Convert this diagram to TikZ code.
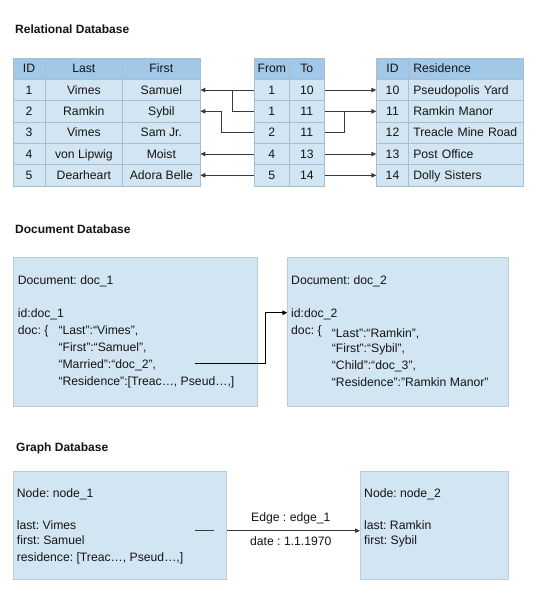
\documentclass[tikz,border=0pt]{standalone}
\usepackage{fontspec}
\setmainfont{Liberation Sans}
\usetikzlibrary{arrows.meta}
\definecolor{hdr}{HTML}{A2C8E8}
\definecolor{cellc}{HTML}{D2E5F3}
\definecolor{bord}{HTML}{A9BDCD}
\definecolor{boxbord}{HTML}{B9CCDA}
\definecolor{linec}{HTML}{3A3A3A}
\definecolor{txt}{HTML}{141414}
\frenchspacing
\begin{document}
\begin{tikzpicture}[x=1pt,y=-1pt,
  font=\fontsize{12.2}{14}\selectfont, text=txt,
  cellbox/.style={draw=bord, line width=0.8pt, fill=cellc, inner sep=0pt, minimum height=21.33pt, text height=8.6pt, text depth=0pt, anchor=center},
  hdrbox/.style={cellbox, fill=hdr},
  lefttext/.style={align=left, inner xsep=5pt, inner ysep=0pt},
  conn/.style={draw=linec, line width=0.9pt},
  arr/.style={conn, -{Triangle[length=5pt,width=4.5pt]}},
  title/.style={font=\fontsize{12}{14}\selectfont\bfseries, anchor=west, inner sep=0pt, text height=8.6pt, text depth=0pt},
  tx/.style={anchor=west, inner sep=0pt, text height=8.6pt, text depth=0pt},
  bigbox/.style={draw=boxbord, line width=0.8pt, fill=cellc, inner sep=0pt, anchor=north west}
]
\useasboundingbox (0,0) rectangle (541,600);

% ---------- Titles ----------
\node[title] (tRel) at (15,29) {Relational Database};
\node[title] (tDoc) at (15,229) {Document Database};
\node[title] (tGra) at (16,447) {Graph Database};

% ---------- Table 1 ----------
\node[hdrbox, minimum width=32pt] (a0) at (29,68.67) {ID};
\node[hdrbox, minimum width=77.7pt] (b0) at (83.85,68.67) {Last};
\node[hdrbox, minimum width=77.3pt] (c0) at (161.35,68.67) {First};
\foreach \i/\vid/\vla/\vfi in {1/1/Vimes/Samuel, 2/2/Ramkin/Sybil, 3/3/Vimes/Sam Jr., 4/4/von Lipwig/Moist, 5/5/Dearheart/Adora Belle}{
  \pgfmathsetmacro{\yy}{68.67+21.33*\i}
  \node[cellbox, minimum width=32pt] (a\i) at (29,\yy) {\vid};
  \node[cellbox, minimum width=77.7pt] (b\i) at (83.85,\yy) {\vla};
  \node[cellbox, minimum width=77.3pt] (c\i) at (161.35,\yy) {\vfi};
}

% ---------- Table 2 ----------
\node[hdrbox, minimum width=35pt] (f0) at (271.8,68.67) {From};
\node[hdrbox, minimum width=35pt] (g0) at (306.8,68.67) {To};
\foreach \i/\vfr/\vto in {1/1/10, 2/1/11, 3/2/11, 4/4/13, 5/5/14}{
  \pgfmathsetmacro{\yy}{68.67+21.33*\i}
  \node[cellbox, minimum width=35pt] (f\i) at (271.8,\yy) {\vfr};
  \node[cellbox, minimum width=35pt] (g\i) at (306.8,\yy) {\vto};
}

% ---------- Table 3 ----------
\node[hdrbox, minimum width=31.6pt] (r0) at (392.5,68.67) {ID};
\node[hdrbox, minimum width=115pt, text width=105pt, lefttext] (s0) at (465.8,68.67) {Residence};
\foreach \i/\vid/\vre in {1/10/Pseudopolis Yard, 2/11/Ramkin Manor, 3/12/Treacle Mine Road, 4/13/Post Office, 5/14/Dolly Sisters}{
  \pgfmathsetmacro{\yy}{68.67+21.33*\i}
  \node[cellbox, minimum width=31.6pt] (r\i) at (392.5,\yy) {\vid};
  \node[cellbox, minimum width=115pt, text width=105pt, lefttext] (s\i) at (465.8,\yy) {\vre};
}

% ---------- Relational connectors ----------
\coordinate (jA) at (232.7,0);
\coordinate (jB) at (221.7,0);
\coordinate (jC) at (344,0);
\draw[arr] (f1.west) -- (c1.east);
\draw[conn] (f2.west) -- (f2.west -| jA) -- (f1.west -| jA);
\draw[conn] (f3.west) -- (f3.west -| jB) -- (f2.west -| jB);
\draw[arr] (f2.west -| jB) -- (c2.east);
\draw[arr] (f4.west) -- (c4.east);
\draw[arr] (f5.west) -- (c5.east);

\draw[arr] (g1.east) -- (r1.west);
\draw[arr] (g2.east) -- (r2.west);
\draw[conn] (g3.east) -- (g3.east -| jC) -- (g2.east -| jC);
\draw[arr] (g4.east) -- (r4.west);
\draw[arr] (g5.east) -- (r5.west);

% ---------- Document database ----------
\node[bigbox, minimum width=244pt, minimum height=149.3pt] (d1) at (13.3,256.7) {};
\node[bigbox, minimum width=220.4pt, minimum height=149.3pt] (d2) at (287.3,256.7) {};

\node[tx] (d1t) at (17.7,280) {Document: doc\_1};
\node[tx] (d1id) at (17.7,312.7) {id:doc\_1};
\node[tx] (d1doc) at (17.7,330) {doc: \{};
\node[tx] (d1l1) at (58.3,330) {“Last”:“Vimes”,};
\node[tx] (d1l2) at (58.3,347.3) {“First”:“Samuel”,};
\node[tx] (d1l3) at (58.3,364) {“Married”:“doc\_2”,};
\node[tx] (d1l4) at (58.3,380.7) {“Residence”:[Treac…, Pseud…,]};

\node[tx] (d2t) at (291,280) {Document: doc\_2};
\node[tx] (d2id) at (291,312.7) {id:doc\_2};
\node[tx] (d2doc) at (291,330) {doc: \{};
\node[tx] (d2l1) at (331.7,333.3) {“Last”:“Ramkin”,};
\node[tx] (d2l2) at (331.7,348.3) {“First”:“Sybil”,};
\node[tx] (d2l3) at (331.7,365.5) {“Child”:“doc\_3”,};
\node[tx] (d2l4) at (331.7,382.3) {“Residence”:"Ramkin Manor”};

\coordinate (mstart) at (195,363.3);
\coordinate (mbend) at (265,363.3);
\draw[arr, draw=black] (mstart) -- (mbend) |- (d2id.west -| d2.west);

% ---------- Graph database ----------
\node[bigbox, minimum width=212.4pt, minimum height=108.3pt] (n1) at (13.3,470.7) {};
\node[bigbox, minimum width=148.3pt, minimum height=108.3pt] (n2) at (360,470.7) {};

\node[tx] (n1t) at (16.7,493.3) {Node: node\_1};
\node[tx] (n1a) at (16.7,525) {last: Vimes};
\node[tx] (n1b) at (16.7,540.3) {first: Samuel};
\node[tx] (n1c) at (16.7,556.7) {residence: [Treac…, Pseud…,]};

\node[tx] (n2t) at (364,493.3) {Node: node\_2};
\node[tx] (n2a) at (364,525) {last: Ramkin};
\node[tx] (n2b) at (364,540.3) {first: Sybil};

\coordinate (s1) at (195,530.7);
\coordinate (s2) at (214.3,530.7);
\draw[conn] (s1) -- (s2);
\draw[arr] (n1.east |- s1) -- (n2.west |- s1);

\node[anchor=center, inner sep=0pt, text height=8.6pt, text depth=0pt] (e1) at (290.8,517.3) {Edge : edge\_1};
\node[anchor=center, inner sep=0pt, text height=8.6pt, text depth=0pt] (e2) at (290.8,541) {date : 1.1.1970};
\end{tikzpicture}
\end{document}
